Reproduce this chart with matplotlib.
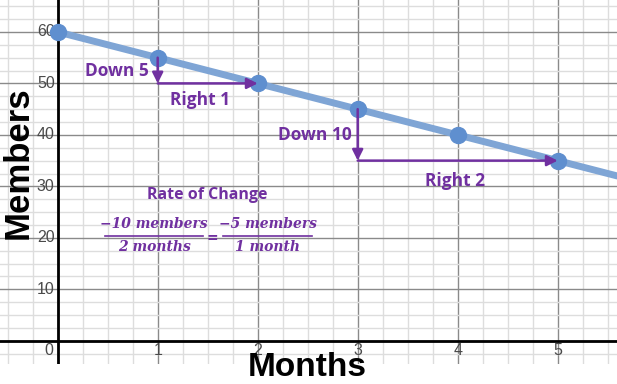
import matplotlib
matplotlib.use("Agg")
import matplotlib.pyplot as plt
from matplotlib.ticker import MultipleLocator

# data
months = [0, 1, 2, 3, 4, 5]
members = [60, 55, 50, 45, 40, 35]
trend_x = [0, 5.6]
trend_y = [60, 32]

x_ticks = [0, 1, 2, 3, 4, 5]
y_ticks = [10, 20, 30, 40, 50, 60]

# (start, end) of the step arrows
steps = [((1, 55), (1, 50)), ((1, 50), (2, 50)),
         ((3, 45), (3, 35)), ((3, 35), (5, 35))]

purple = "#7030A0"
blue_line = "#7FA5D5"
blue_dot = "#5F8FCF"

fig = plt.figure(figsize=(6.17, 3.84), dpi=100)
ax = fig.add_axes([0, 20 / 384, 1, 364 / 384])
ax.set_xlim(-0.577, 5.593)
ax.set_ylim(-4.5, 66.2)

ax.xaxis.set_major_locator(MultipleLocator(1))
ax.xaxis.set_minor_locator(MultipleLocator(0.25))
ax.yaxis.set_major_locator(MultipleLocator(10))
ax.yaxis.set_minor_locator(MultipleLocator(2.5))
ax.grid(which="minor", color="#dddddd", lw=1)
ax.grid(which="major", color="#8a8a8a", lw=1)
ax.set_axisbelow(True)
ax.tick_params(which="both", length=0, labelbottom=False, labelleft=False)
for s in ax.spines.values():
    s.set_visible(False)

ax.axhline(0, color="black", lw=2, zorder=2)
ax.axvline(0, color="black", lw=2, zorder=2)

# tick labels
tick_font = dict(family="Liberation Sans", fontsize=11.5, color="#4a4a4a")
for x in x_ticks:
    xx = -0.09 if x == 0 else x
    ax.text(xx, -1.9, str(x), ha="center", va="center", **tick_font)
for y in y_ticks:
    ax.text(-0.03, y, str(y), ha="right", va="center", **tick_font)

# trend line and points
ax.plot(trend_x, trend_y, color=blue_line, lw=5, solid_capstyle="butt", zorder=3)
ax.plot(months, members, "o", color=blue_dot, ms=11.5, zorder=4)

for start, end in steps:
    ax.annotate("", xy=end, xytext=start,
                arrowprops=dict(arrowstyle="-|>", color=purple, lw=1.8,
                                mutation_scale=16, shrinkA=0, shrinkB=0),
                zorder=5)

lab = dict(family="Open Sans", fontweight="bold", fontsize=12.5, color=purple)
ax.text(0.913, 52.4, "Down 5", ha="right", va="center", **lab)
ax.text(1.42, 46.8, "Right 1", ha="center", va="center", **lab)
ax.text(2.94, 40.0, "Down 10", ha="right", va="center", **lab)
ax.text(3.97, 31.1, "Right 2", ha="center", va="center", **lab)

ax.text(1.50, 28.3, "Rate of Change", ha="center", va="center",
        family="Open Sans", fontweight="bold", fontsize=11.5, color=purple)

frac = dict(family="DejaVu Serif", style="italic", fontweight="bold",
            fontsize=10, color=purple, ha="center", va="center")
ax.text(0.963, 22.6, "\u221210 members", **frac)
ax.text(0.963, 18.3, "2 months", **frac)
ax.text(2.10, 22.6, "\u22125 members", **frac)
ax.text(2.10, 18.3, "1 month", **frac)
ax.text(1.55, 20.0, "=", **frac)
ax.plot([0.47, 1.45], [20.3, 20.3], color=purple, lw=1.2)
ax.plot([1.65, 2.54], [20.3, 20.3], color=purple, lw=1.2)

fig.text(18 / 617, 1 - 163 / 384, "Members", rotation=90, ha="center", va="center",
         family="Liberation Sans", fontweight="bold", fontsize=25, color="black")
fig.text(307 / 617, 1 - 367 / 384, "Months", ha="center", va="center",
         family="Liberation Sans", fontweight="bold", fontsize=24, color="black")

fig.savefig("out.png", dpi=100)
